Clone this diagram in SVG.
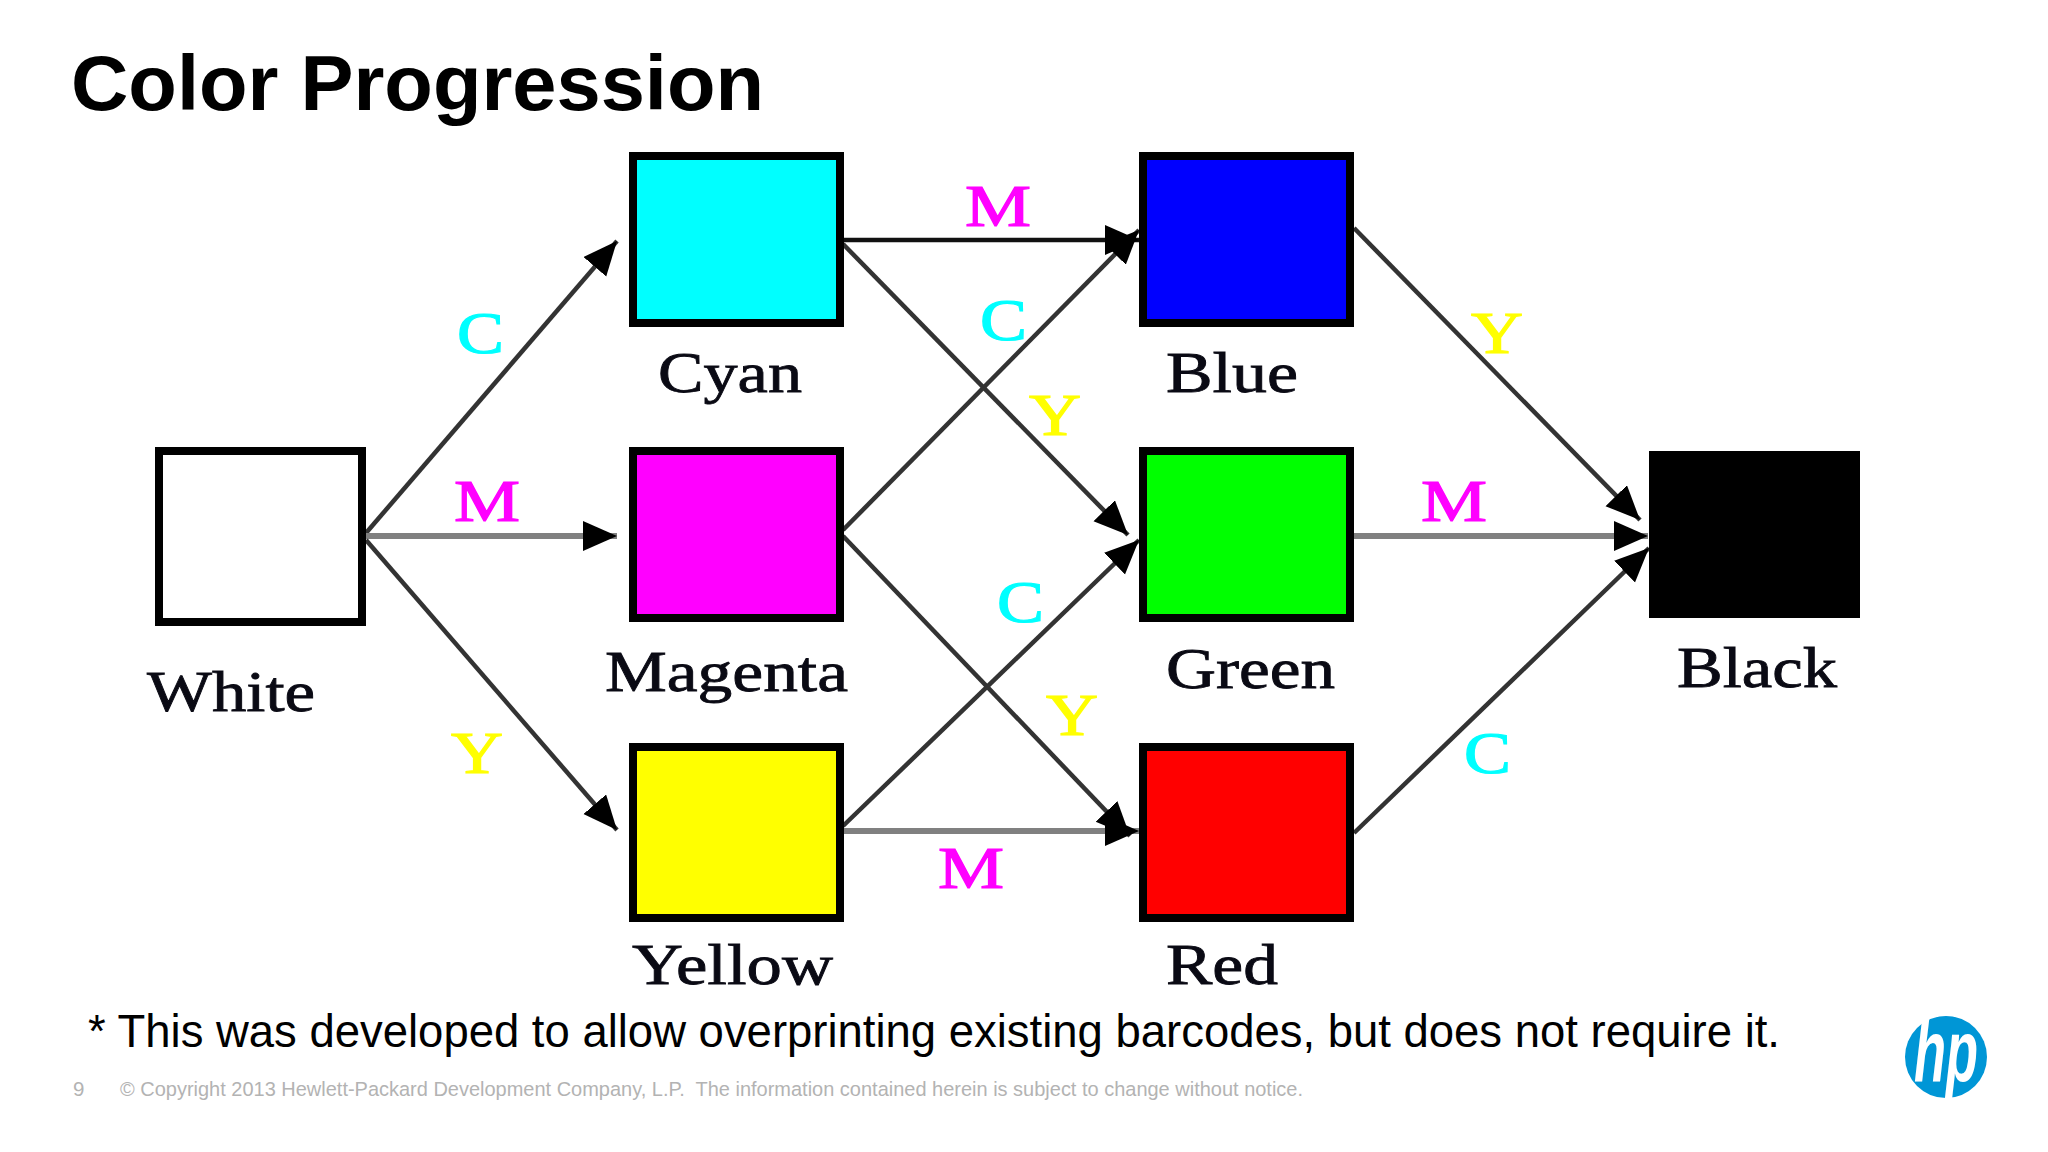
<svg xmlns="http://www.w3.org/2000/svg" width="2048" height="1152" viewBox="0 0 2048 1152">
<style>
.box{stroke:#000;stroke-width:8}
.name{font-family:"Liberation Serif","Times New Roman",serif;font-size:56px;fill:#0a0a14;stroke:#0a0a14;stroke-width:.8}
.op{font-family:"Liberation Serif","Times New Roman",serif;font-size:60px;stroke-width:1.2}
.c{fill:#00ffff;stroke:#00ffff}.m{fill:#ff00ff;stroke:#ff00ff}.y{fill:#ffff00;stroke:#ffff00}
.e{fill:none;stroke:#333;stroke-width:4.5;marker-end:url(#head)}
.k{stroke:#111}
.g{stroke:#808080;stroke-width:6}
.foot{font-family:"Liberation Sans",Arial,sans-serif;font-size:20.5px;fill:#b3b3b3}
</style>
<defs>
<marker id="head" markerUnits="userSpaceOnUse" markerWidth="36" markerHeight="32" refX="34" refY="15" orient="auto" viewBox="0 0 36 32">
<path d="M0 0L34 15L0 30Z" fill="#000"/>
</marker>
</defs>
<rect width="2048" height="1152" fill="#fff"/>
<text x="71" y="110" font-family="'Liberation Sans',Arial,sans-serif" font-size="78" font-weight="bold" fill="#000" textLength="693" lengthAdjust="spacingAndGlyphs">Color Progression</text>
<g id="connectors">
<path class="e" d="M366 533L617 241"/>
<path class="e g" d="M366 536H617"/>
<path class="e" d="M366 540L617 830"/>
<path class="e k" d="M843 240H1139"/>
<path class="e" d="M843 244L1128 535"/>
<path class="e" d="M843 530L1139 230"/>
<path class="e" d="M843 536L1130 836"/>
<path class="e" d="M843 826L1139 540"/>
<path class="e g" d="M843 831H1139"/>
<path class="e" d="M1354 228L1640 520"/>
<path class="e g" d="M1354 536H1648"/>
<path class="e" d="M1354 833L1649 548"/>
<text class="op c" x="457" y="353" textLength="47" lengthAdjust="spacingAndGlyphs">C</text>
<text class="op m" x="454" y="521" textLength="66" lengthAdjust="spacingAndGlyphs">M</text>
<text class="op y" x="451" y="773" textLength="52" lengthAdjust="spacingAndGlyphs">Y</text>
<text class="op m" x="965" y="226" textLength="66" lengthAdjust="spacingAndGlyphs">M</text>
<text class="op c" x="980" y="340" textLength="47" lengthAdjust="spacingAndGlyphs">C</text>
<text class="op y" x="1029" y="435" textLength="52" lengthAdjust="spacingAndGlyphs">Y</text>
<text class="op c" x="997" y="622" textLength="47" lengthAdjust="spacingAndGlyphs">C</text>
<text class="op y" x="1046" y="735" textLength="52" lengthAdjust="spacingAndGlyphs">Y</text>
<text class="op m" x="938" y="888" textLength="66" lengthAdjust="spacingAndGlyphs">M</text>
<text class="op y" x="1471" y="353" textLength="52" lengthAdjust="spacingAndGlyphs">Y</text>
<text class="op m" x="1421" y="521" textLength="66" lengthAdjust="spacingAndGlyphs">M</text>
<text class="op c" x="1464" y="773" textLength="47" lengthAdjust="spacingAndGlyphs">C</text>
</g>
<g id="node-white"><rect class="box" x="159" y="451" width="203" height="171" fill="#fff"/><text class="name" x="147" y="711" textLength="168" lengthAdjust="spacingAndGlyphs">White</text></g>
<g id="node-cyan"><rect class="box" x="633" y="156" width="207" height="167" fill="#00ffff"/><text class="name" x="658" y="392" textLength="144" lengthAdjust="spacingAndGlyphs">Cyan</text></g>
<g id="node-magenta"><rect class="box" x="633" y="451" width="207" height="167" fill="#ff00ff"/><text class="name" x="605" y="691" textLength="243" lengthAdjust="spacingAndGlyphs">Magenta</text></g>
<g id="node-yellow"><rect class="box" x="633" y="747" width="207" height="171" fill="#ffff00"/><text class="name" x="632" y="984" textLength="201" lengthAdjust="spacingAndGlyphs">Yellow</text></g>
<g id="node-blue"><rect class="box" x="1143" y="156" width="207" height="167" fill="#0000ff"/><text class="name" x="1166" y="392" textLength="132" lengthAdjust="spacingAndGlyphs">Blue</text></g>
<g id="node-green"><rect class="box" x="1143" y="451" width="207" height="167" fill="#00ff00"/><text class="name" x="1166" y="688" textLength="169" lengthAdjust="spacingAndGlyphs">Green</text></g>
<g id="node-red"><rect class="box" x="1143" y="747" width="207" height="171" fill="#ff0000"/><text class="name" x="1166" y="984" textLength="112" lengthAdjust="spacingAndGlyphs">Red</text></g>
<g id="node-black"><rect x="1649" y="451" width="211" height="167" fill="#000"/><text class="name" x="1677" y="687" textLength="160" lengthAdjust="spacingAndGlyphs">Black</text></g>
<text x="88" y="1047" font-family="'Liberation Sans',Arial,sans-serif" font-size="46" fill="#000" textLength="1692" lengthAdjust="spacingAndGlyphs">* This was developed to allow overprinting existing barcodes, but does not require it.</text>
<text class="foot" x="73" y="1096">9</text>
<text class="foot" x="120" y="1096" textLength="1183" lengthAdjust="spacingAndGlyphs" xml:space="preserve">© Copyright 2013 Hewlett-Packard Development Company, L.P.  The information contained herein is subject to change without notice.</text>
<g id="logo"><circle cx="1946" cy="1057" r="41" fill="#0096d6"/><text x="1914" y="1081" font-family="'Liberation Sans',Arial,sans-serif" font-size="88" font-style="italic" font-weight="bold" fill="#fff" textLength="64" lengthAdjust="spacingAndGlyphs">hp</text></g>
</svg>
